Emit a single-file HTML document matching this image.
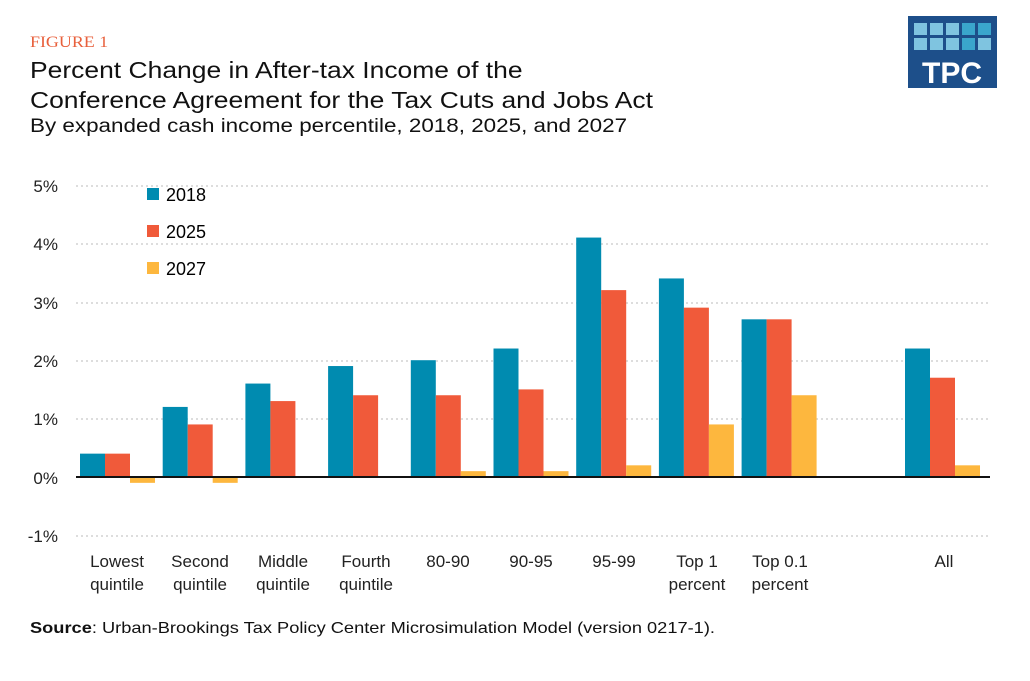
<!DOCTYPE html>
<html><head><style>
body{margin:0;width:1030px;height:681px;background:#fff;font-family:"Liberation Sans",sans-serif;overflow:hidden;position:relative}
.t{position:absolute;white-space:nowrap;transform-origin:0 0}
</style></head><body>
<div class="t" style="left:30px;top:34px;font-family:'Liberation Serif',serif;color:#e8603c;font-size:16px;transform:scaleX(1.12)">FIGURE 1</div>
<div class="t" style="left:30px;top:55px;font-size:23px;color:#111;line-height:30px;transform:scaleX(1.15)">Percent Change in After-tax Income of the<br>Conference Agreement for the Tax Cuts and Jobs Act</div>
<div class="t" style="left:30px;top:116px;font-size:19px;color:#111;transform:scaleX(1.18)">By expanded cash income percentile, 2018, 2025, and 2027</div>
<div class="t" style="left:30px;top:620px;font-size:16px;color:#111;transform:scaleX(1.14)"><b>Source</b>: Urban-Brookings Tax Policy Center Microsimulation Model (version 0217-1).</div>
<svg width="1030" height="681" style="position:absolute;left:0;top:0">
<rect x="908" y="16" width="89" height="72" fill="#1d4f8a"/>
<g fill="#7fc4e0">
<rect x="914" y="23" width="13" height="12"/><rect x="930" y="23" width="13" height="12"/><rect x="946" y="23" width="13" height="12"/><rect x="962" y="23" width="13" height="12" fill="#3aa6cc"/><rect x="978" y="23" width="13" height="12" fill="#3aa6cc"/>
<rect x="914" y="38" width="13" height="12"/><rect x="930" y="38" width="13" height="12"/><rect x="946" y="38" width="13" height="12"/><rect x="962" y="38" width="13" height="12" fill="#3aa6cc"/><rect x="978" y="38" width="13" height="12"/>
</g>
<text x="952" y="83" fill="#fff" font-size="30" font-weight="bold" text-anchor="middle" font-family="Liberation Sans">TPC</text>
<g stroke="#bbb" stroke-dasharray="2,3" stroke-width="1">
<line x1="76" x2="990" y1="186" y2="186"/><line x1="76" x2="990" y1="244" y2="244"/><line x1="76" x2="990" y1="303" y2="303"/><line x1="76" x2="990" y1="361" y2="361"/><line x1="76" x2="990" y1="419" y2="419"/><line x1="76" x2="990" y1="536" y2="536"/>
</g>
<g font-size="17" fill="#222" text-anchor="end">
<text x="58" y="192">5%</text><text x="58" y="250">4%</text><text x="58" y="309">3%</text><text x="58" y="367">2%</text><text x="58" y="425">1%</text><text x="58" y="484">0%</text><text x="58" y="542">-1%</text>
</g>
<g id="bars"></g>
<line x1="76" x2="990" y1="477" y2="477" stroke="#111" stroke-width="2"/>
<rect x="147" y="188" width="12" height="12" fill="#008bb0"/><text x="166" y="201" font-size="18">2018</text>
<rect x="147" y="225" width="12" height="12" fill="#f05a3a"/><text x="166" y="238" font-size="18">2025</text>
<rect x="147" y="262" width="12" height="12" fill="#fdb73e"/><text x="166" y="275" font-size="18">2027</text>
<g font-size="17" fill="#222" text-anchor="middle">
<text x="117" y="567">Lowest</text><text x="117" y="590">quintile</text>
<text x="200" y="567">Second</text><text x="200" y="590">quintile</text>
<text x="283" y="567">Middle</text><text x="283" y="590">quintile</text>
<text x="366" y="567">Fourth</text><text x="366" y="590">quintile</text>
<text x="448" y="567">80-90</text><text x="531" y="567">90-95</text><text x="614" y="567">95-99</text>
<text x="697" y="567">Top 1</text><text x="697" y="590">percent</text>
<text x="780" y="567">Top 0.1</text><text x="780" y="590">percent</text>
<text x="944" y="567">All</text>
</g>
</svg>
<script>
var d=[[.4,.4,-.1],[1.2,.9,-.1],[1.6,1.3,0],[1.9,1.4,0],[2,1.4,.1],[2.2,1.5,.1],[4.1,3.2,.2],[3.4,2.9,.9],[2.7,2.7,1.4],[2.2,1.7,.2]];
var c=["#008bb0","#f05a3a","#fdb73e"],s="";
d.forEach(function(g,i){var x0=i<9?80+82.7*i:905;g.forEach(function(v,j){if(!v)return;var h=Math.abs(v)*58.4,y=v>0?477-h:477;s+='<rect x="'+(x0+j*25)+'" y="'+y+'" width="25" height="'+h+'" fill="'+c[j]+'"/>';});});
document.getElementById("bars").innerHTML=s;
</script>
</body></html>
